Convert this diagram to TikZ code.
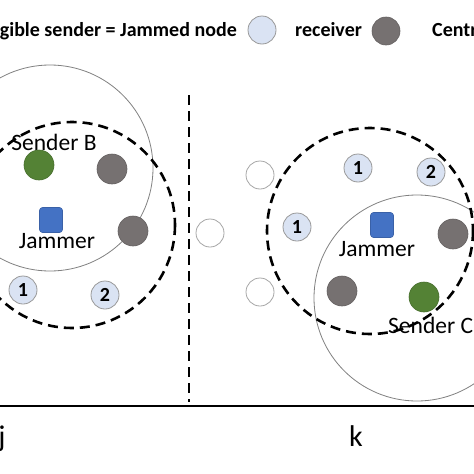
\documentclass[tikz,border=0pt]{standalone}
\usepackage{fontspec}
\setmainfont{Carlito}
\usepackage{tikz}

\definecolor{nodegray}{HTML}{767171}
\definecolor{sendgreen}{HTML}{548235}
\definecolor{jamblue}{HTML}{4472C4}
\definecolor{lightfill}{HTML}{DAE3F3}

\begin{document}
\begin{tikzpicture}[x=1pt, y=-1pt,
    rx/.style={circle, fill=nodegray, draw=nodegray!85!black, line width=0.6pt, minimum size=30pt, inner sep=0pt},
    snd/.style={circle, fill=sendgreen, draw=sendgreen!85!black, line width=0.6pt, minimum size=30pt, inner sep=0pt},
    jam/.style={rectangle, rounded corners=3pt, fill=jamblue, draw=jamblue!85!black, line width=0.6pt, minimum width=23pt, minimum height=25pt, inner sep=0pt},
    jd/.style={circle, fill=lightfill, draw=gray!80, line width=0.8pt, minimum size=28pt, inner sep=0pt, font=\fontsize{20}{20}\selectfont\bfseries},
    free/.style={circle, fill=white, draw=gray!70, line width=0.8pt, minimum size=28pt, inner sep=0pt},
    cellrange/.style={draw=gray, line width=0.8pt},
    jamrange/.style={draw=black, line width=2.6pt, dash pattern=on 10pt off 6pt},
    lbl/.style={inner sep=0pt, font=\fontsize{23.5}{23.5}\selectfont},
    leg/.style={inner sep=0pt, font=\fontsize{20}{20}\selectfont\bfseries}]
            \useasboundingbox (0,0) rectangle (474,474);
            \clip (0,0) rectangle (474,474);
            %
            % legend
            \node[leg, anchor=base east] (legjam) at (237,36) {Eligible sender = Jammed node};
            \node[jd] (legjd) at (262,30) {};
            \node[leg, anchor=base west] (legrx) at (295,36) {receiver};
            \node[rx, minimum size=28pt] (legcn) at (386,31) {};
            \node[leg, anchor=base west] (legc) at (432,36) {Central node};
            %
            % ranges
            \draw[cellrange] (50,168) circle (103);
            \draw[jamrange] (72,225) circle (103);
            \draw[cellrange] (417,298) circle (103);
            \draw[jamrange] (370,231) circle (103);
            %
            % border and ground line
            \coordinate (btop) at (189,95);
            \coordinate (bbot) at (189,402);
            \draw[black, line width=2.6pt, dash pattern=on 10pt off 6pt] (btop) -- (bbot);
            \coordinate (gl) at (0,406);
            \coordinate (gr) at (474,406);
            \draw[black, line width=2pt] (gl) -- (gr);
            %
            % cell j
            \node[lbl, anchor=base] (sendB) at (54,150) {Sender B};
            \node[snd] (gB) at (39,165) {};
            \node[rx] (rB1) at (112,169) {};
            \node[jam] (jB) at (51,220) {};
            \node[lbl, anchor=base] (jamB) at (57,248) {Jammer};
            \node[rx] (rB2) at (133,231) {};
            \node[jd] (dB1) at (23,290) {1};
            \node[jd] (dB2) at (105,295) {2};
            %
            % between cells
            \node[free] (f1) at (210,233) {};
            %
            % cell k
            \node[free] (f2) at (260,175) {};
            \node[free] (f3) at (260,292) {};
            \node[jd] (dC1) at (358,168) {1};
            \node[jd] (dC2) at (431,172) {2};
            \node[jd] (dC3) at (297,227) {1};
            \node[jam] (jC) at (382,225) {};
            \node[lbl, anchor=base] (jamC) at (377,256) {Jammer};
            \node[rx] (rC1) at (453,234) {};
            \node[rx] (rC2) at (342,291) {};
            \node[snd] (gC) at (424,297) {};
            \node[lbl, anchor=base west] (sendC) at (388,333) {Sender C};
            %
            \node[inner sep=0pt, anchor=base, font=\fontsize{30}{30}\selectfont] (labj) at (2,446) {j};
            \node[inner sep=0pt, anchor=base, font=\fontsize{30}{30}\selectfont] (labk) at (356,446) {k};
        \end{tikzpicture}
\end{document}
